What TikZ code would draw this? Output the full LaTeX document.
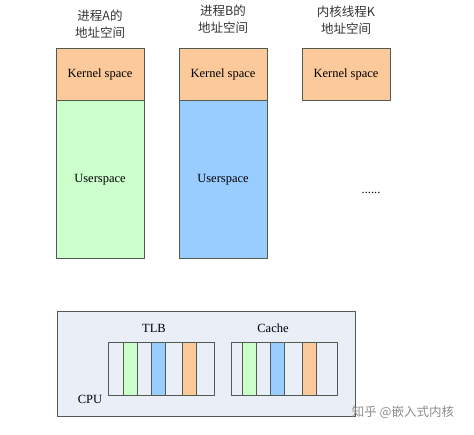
\documentclass[tikz,border=0pt]{standalone}
\usepackage{fontspec}
\setmainfont{Liberation Serif}
\newfontfamily\cjk{Noto Sans CJK SC}
\usetikzlibrary{positioning}
\definecolor{kernelc}{HTML}{FCC99A}
\definecolor{userA}{HTML}{CCFFCC}
\definecolor{userB}{HTML}{99CCFF}
\definecolor{cpuc}{HTML}{E9EEF7}
\definecolor{edge}{HTML}{505A50}

\begin{document}
\begin{tikzpicture}[x=1pt,y=-1pt,line join=round,
  box/.style={draw=edge,line width=0.9pt,minimum width=88pt,inner sep=0pt,font=\fontsize{12.5}{14}\selectfont},
  kbox/.style={box,fill=kernelc,minimum height=52pt},
  ubox/.style={box,minimum height=158pt},
  lbl/.style={align=center,font=\cjk\fontsize{12.5}{17}\selectfont,text=black!80},
  tag/.style={font=\fontsize{12.5}{14}\selectfont}]
\useasboundingbox (0,0) rectangle (474,434);
% address spaces
\node[kbox] (kA) at (100,74) {Kernel space};
\node[ubox,fill=userA,below=0pt of kA] (uA) {Userspace};
\node[kbox] (kB) at (223,74) {Kernel space};
\node[ubox,fill=userB,below=0pt of kB] (uB) {Userspace};
\node[kbox] (kK) at (346,74) {Kernel space};
\node[lbl] (lA) at (100,24) {进程A的\\地址空间};
\node[lbl] (lB) at (223,19) {进程B的\\地址空间};
\node[lbl] (lK) at (346,20) {内核线程K\\地址空间};
\node[tag] (dots) at (371,193) {......};
% cpu
\node[draw=edge,line width=0.9pt,fill=cpuc,minimum width=298pt,minimum height=105pt] (cpu) at (206,363.5) {};
\node[tag] (cpul) at (90,399) {CPU};
\node[draw=edge,line width=0.8pt,minimum width=106pt,minimum height=53pt] (tlb) at (161,368.5) {};
\node[draw=edge,line width=0.8pt,minimum width=106pt,minimum height=53pt] (cache) at (284,368.5) {};
\node[tag] (tlbl) at (154,328) {TLB};
\node[tag] (cachel) at (273,328) {Cache};
\foreach \x/\c in {130/userA,158.5/userB,189.5/kernelc,249/userA,277.5/userB,309/kernelc}
  \node[draw=edge,line width=0.8pt,fill=\c,minimum width=14pt,minimum height=53pt,inner sep=0pt] at (\x,368.5) {};
% watermark
\node[font=\cjk\fontsize{12.5}{14}\selectfont,text=black!45] (wm) at (403,412) {知乎 @嵌入式内核};
\end{tikzpicture}
\end{document}
